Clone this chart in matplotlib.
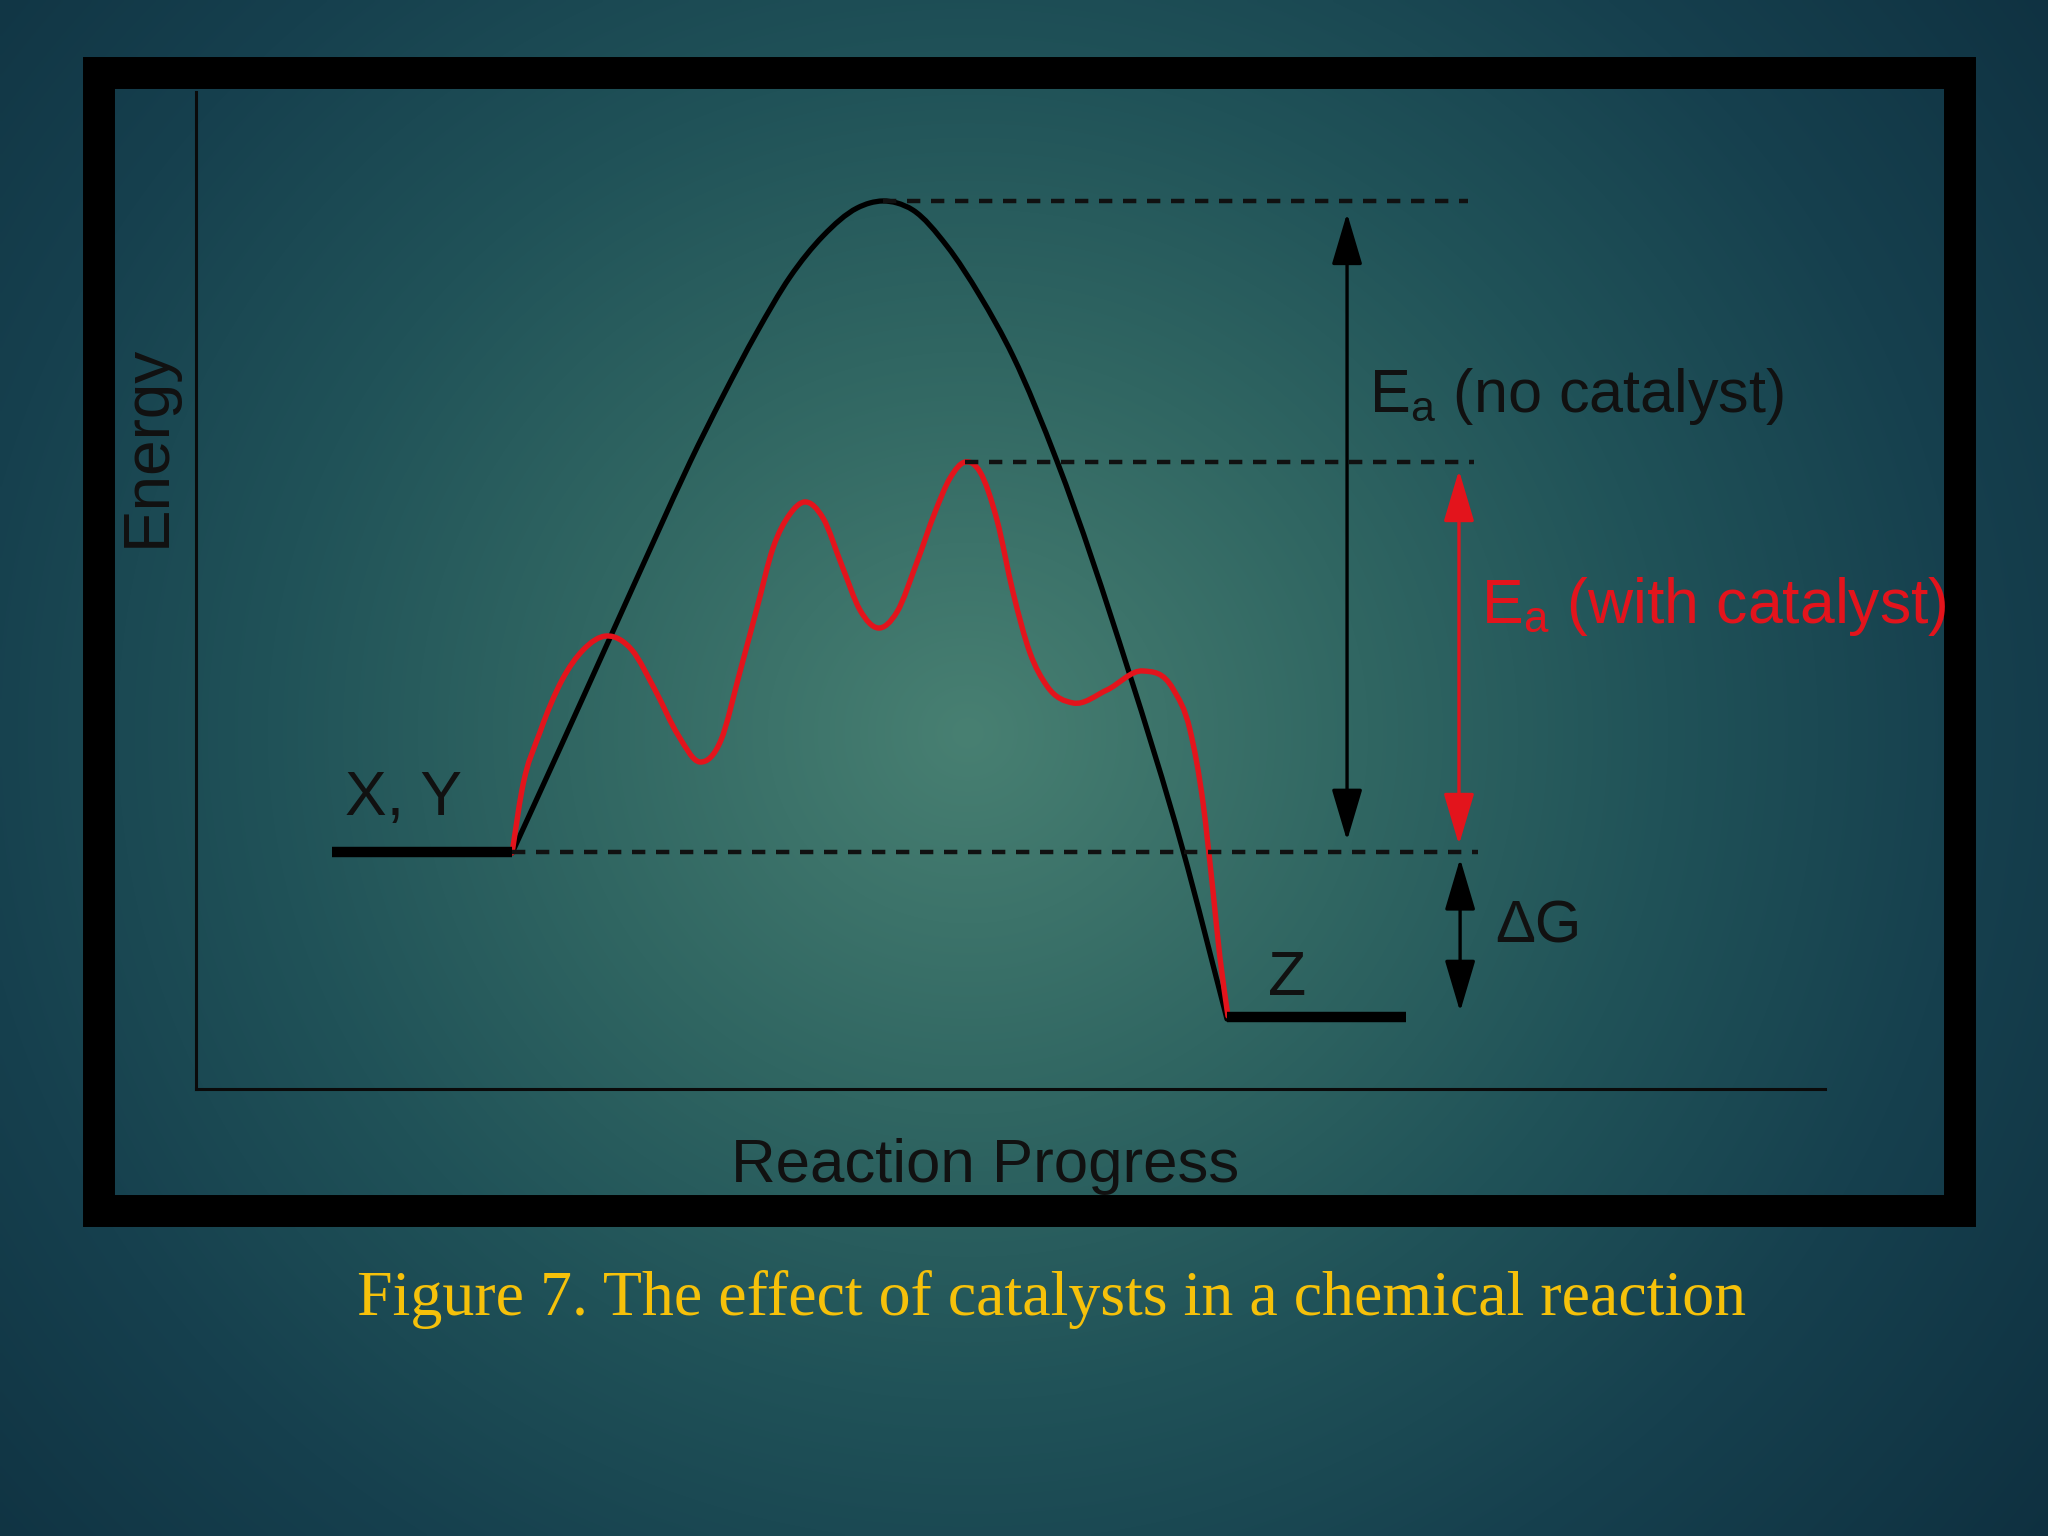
import numpy as np
import matplotlib
matplotlib.use("Agg")
import matplotlib.pyplot as plt
from matplotlib.patches import Rectangle, FancyArrowPatch, PathPatch
from matplotlib.path import Path

# ---------------- data (reaction progress 0-100, energy 0-100) ----------------
uncat_progress = [19.40, 22.35, 25.41, 28.30, 30.33, 32.35, 34.44, 36.46, 38.49, 40.58,
                  41.37, 42.17, 43.03, 44.01, 46.10, 48.13, 50.15, 52.85, 57.21, 60.53, 63.29]
uncat_energy = [23.67, 34.20, 45.24, 55.67, 62.89, 69.51, 75.93, 81.44, 85.56, 88.36,
                88.87, 89.07, 88.87, 88.16, 84.55, 79.54, 73.52, 62.99, 42.13, 24.27, 7.02]

cat_progress = [19.40, 20.01, 21.12, 22.47, 23.76, 25.23, 26.76, 28.18, 29.59, 30.94,
                32.23, 33.39, 34.44, 35.42, 36.46, 37.38, 38.49, 39.66, 40.76, 41.87,
                43.03, 44.26, 45.37, 46.29, 47.21, 48.13, 49.17, 50.15, 51.20, 52.24,
                53.84, 55.92, 58.13, 59.98, 61.02, 61.82, 62.43, 62.86, 63.35]
cat_energy = [23.67, 29.99, 35.81, 41.02, 44.03, 45.44, 44.03, 40.02, 35.51, 32.80,
              35.01, 41.83, 48.25, 54.26, 57.67, 58.88, 57.27, 52.46, 48.04, 46.24,
              47.84, 52.86, 57.87, 61.28, 62.89, 61.89, 57.07, 49.85, 43.73, 40.42,
              38.72, 40.02, 41.93, 40.12, 36.01, 28.69, 19.86, 13.14, 7.32]

reactant_energy = 23.8
product_energy = 7.2
uncat_peak_energy = 89.1
cat_peak_energy = 62.9
reactant_span = [8.35, 19.4]
product_span = [63.3, 74.3]
uncat_peak_progress = 42.2
cat_peak_progress = 47.2
guide_end = [78.1, 78.45, 78.7]          # top, catalysed, reactant guide lines
arrow_x = {"uncat": 70.66, "cat": 77.53, "dg": 77.6}

label_reactants = "X, Y"
label_product = "Z"
label_dg = "ΔG"
label_ea_uncat = r"E$_\mathrm{a}$ (no catalyst)"
label_ea_cat = r"E$_\mathrm{a}$ (with catalyst)"
xlabel = "Reaction Progress"
ylabel = "Energy"
caption = "Figure 7. The effect of catalysts in a chemical reaction"

# ---------------- style ----------------
plt.rcParams['font.family'] = ['Liberation Sans', 'DejaVu Sans']
plt.rcParams['mathtext.fontset'] = 'custom'
plt.rcParams['mathtext.rm'] = 'Liberation Sans'
plt.rcParams['mathtext.it'] = 'Liberation Sans:italic'
plt.rcParams['mathtext.bf'] = 'Liberation Sans:bold'

W, H = 2048, 1536
fig = plt.figure(figsize=(W / 100, H / 100), dpi=100)

# background radial gradient
bg = fig.add_axes([0, 0, 1, 1])
bg.set_xlim(0, W)
bg.set_ylim(H, 0)
bg.axis('off')
yy, xx = np.mgrid[0:H:4, 0:W:4]
r = np.hypot((xx - 966) * 1.0, (yy - 731) * 1.05)
stops = [0, 400, 700, 1000, 1400]
cols = np.array([[72, 128, 114], [48, 102, 98], [32, 82, 88], [22, 64, 78], [14, 47, 63]]) / 255
img = np.dstack([np.interp(r, stops, cols[:, k]) for k in range(3)])
bg.imshow(img, extent=[0, W, H, 0], interpolation='bilinear', zorder=0)

# black picture frame
bg.add_patch(Rectangle((99, 73), 1960 - 99, 1211 - 73, fill=False, edgecolor='black',
                       linewidth=23, joinstyle='miter', zorder=1))

fig.text(1052 / W, 1 - 1315 / H, caption, ha='center', va='baseline',
         color='#F6C10A', fontsize=46, family=['Liberation Serif', 'DejaVu Serif'])

# main diagram axes
ax = fig.add_axes([196 / W, 1 - 1089 / H, 1629 / W, 997 / H])
ax.set_xlim(0, 100)
ax.set_ylim(0, 100)
ax.patch.set_visible(False)
for s in ['top', 'right']:
    ax.spines[s].set_visible(False)
for s in ['left', 'bottom']:
    ax.spines[s].set_linewidth(2.2)
    ax.spines[s].set_color('#0a0a0a')
ax.set_xticks([])
ax.set_yticks([])

ax.set_xlabel(xlabel, fontsize=44.5, color='#111111', va='baseline')
ax.xaxis.set_label_coords((985.5 - 196) / 1629, (1089 - 1182) / 997)
ax.set_ylabel(ylabel, fontsize=46, color='#111111', va='baseline')
ax.yaxis.set_label_coords((165 - 196) / 1629, (1089 - 446) / 997)

RED = '#E3141C'
dash = (0, (3.0, 2.4))


def smooth_path(xs, ys):
    """Cubic Bezier (Hermite) path through the read points, drawn by matplotlib."""
    x = np.asarray(xs, float)
    y = np.asarray(ys, float)
    h = np.diff(x)
    d = np.diff(y) / h
    n = len(x)
    m = np.empty(n)
    m[0], m[-1] = d[0], d[-1]
    m[1:-1] = (h[1:] * d[:-1] + h[:-1] * d[1:]) / (h[:-1] + h[1:])
    verts = [(x[0], y[0])]
    codes = [Path.MOVETO]
    for k in range(n - 1):
        verts += [(x[k] + h[k] / 3, y[k] + m[k] * h[k] / 3),
                  (x[k + 1] - h[k] / 3, y[k + 1] - m[k + 1] * h[k] / 3),
                  (x[k + 1], y[k + 1])]
        codes += [Path.CURVE4] * 3
    return Path(verts, codes)


# guide lines
ax.plot([uncat_peak_progress, guide_end[0]], [uncat_peak_energy] * 2,
        color='#111111', lw=3.2, linestyle=dash)
ax.plot([cat_peak_progress, guide_end[1]], [cat_peak_energy] * 2,
        color='#111111', lw=3.2, linestyle=dash)
ax.plot([reactant_span[1], guide_end[2]], [reactant_energy] * 2,
        color='#111111', lw=3.2, linestyle=dash)

# energy levels
ax.plot(reactant_span, [reactant_energy] * 2, color='black', lw=7.5, solid_capstyle='butt')
ax.plot(product_span, [product_energy] * 2, color='black', lw=7.5, solid_capstyle='butt')

# curves
ax.add_patch(PathPatch(smooth_path(uncat_progress, uncat_energy), fill=False,
                       edgecolor='black', lw=3.8, joinstyle='round', capstyle='round'))
ax.add_patch(PathPatch(smooth_path(cat_progress, cat_energy), fill=False,
                       edgecolor=RED, lw=3.9, joinstyle='round', capstyle='round'))


# arrows
def darrow(x, y0, y1, color, sA, sB):
    a = FancyArrowPatch((x, y0), (x, y1),
                        arrowstyle='<|-|>,head_length=32,head_width=9.5',
                        mutation_scale=1, color=color, lw=2.4,
                        shrinkA=sA, shrinkB=sB)
    ax.add_patch(a)


darrow(arrow_x["uncat"], reactant_energy, uncat_peak_energy, 'black', 8, 9)
darrow(arrow_x["cat"], reactant_energy, cat_peak_energy, RED, 5, 6)
darrow(arrow_x["dg"], reactant_energy, product_energy, 'black', 5, -4)

# labels
ax.text(9.15, 27.48, label_reactants, fontsize=45, color='#111111', va='baseline')
ax.text(65.81, 9.43, label_product, fontsize=45, color='#111111', va='baseline')
ax.text(79.74, 14.74, label_dg, fontsize=43, color='#111111', va='baseline')
ax.text(72.0, 67.9, label_ea_uncat, fontsize=44, color='#111111', va='baseline')
ax.text(78.88, 46.74, label_ea_cat, fontsize=45, color=RED, va='baseline')

fig.savefig('out.png', dpi=100)
